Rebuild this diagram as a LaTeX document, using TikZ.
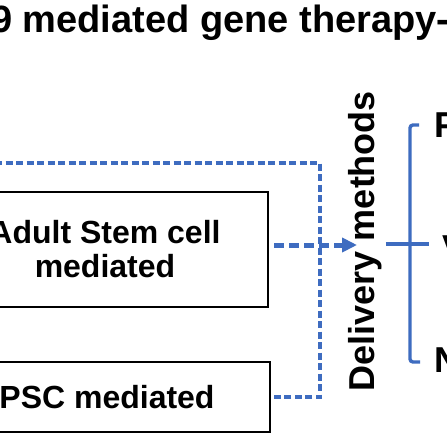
\documentclass[tikz,border=0pt]{standalone}
\usepackage{fontspec}
\setmainfont{Liberation Sans}
\usetikzlibrary{arrows.meta}
\definecolor{linkblue}{RGB}{62,108,192}
\tikzset{
	cellbox/.style = {draw, line width=2.3pt, minimum width=326pt, align=center, font=\fontsize{32}{34}\selectfont\bfseries},
	thindash/.style = {linkblue, line width=3.2pt, dash pattern=on 7pt off 3.5pt},
	thickdash/.style = {linkblue, line width=5pt, dash pattern=on 10pt off 5pt},
	forkline/.style = {linkblue, line width=3.4pt, rounded corners=3pt},
	bigtext/.style = {font=\fontsize{36}{40}\selectfont\bfseries, inner sep=0pt}
}
\begin{document}
\begin{tikzpicture}[x=1pt, y=-1pt]
	\useasboundingbox (0,0) rectangle (447,447);
	\clip (0,0) rectangle (447,447);
	\fill [white] (0,0) rectangle (447,447);
	\node [bigtext, font=\fontsize{38}{40}\selectfont\bfseries, anchor=base west] (title) at (-9,32) {9 mediated gene therapy-};
	\node [cellbox, minimum height=115pt] (adult) at (105,249.5) {Adult Stem cell\\mediated};
	\node [cellbox, minimum height=70pt] (psc) at (107,397) {PSC mediated};
	\node [bigtext, rotate=90] (deliv) at (365,241) {Delivery methods};
	\node [bigtext, anchor=west] (phys) at (434,125) {P};
	\node [bigtext, anchor=west] (viral) at (442,248) {V};
	\node [bigtext, anchor=west] (nonviral) at (434,360) {N};
	\coordinate (offleft) at (-5,163);
	\coordinate (joint) at (320,245);
	\coordinate (fork) at (410,244);
	% dashed links into the junction
	\draw [thindash] (offleft) -| (joint) |- (psc.east);
	\draw [thickdash, -{Triangle[length=15pt,width=14pt]}, shorten <=5pt] (adult.east |- joint) -- ([xshift=9pt]deliv.north |- joint);
	% fork to the three methods
	\draw [forkline] ([xshift=-15pt]phys.west) -| (fork) |- ([xshift=-14pt,yshift=-2pt]nonviral.west);
	\draw [forkline] ([xshift=4pt]deliv.south |- fork) -- ([xshift=-13pt]viral.west |- fork);
\end{tikzpicture}
\end{document}
